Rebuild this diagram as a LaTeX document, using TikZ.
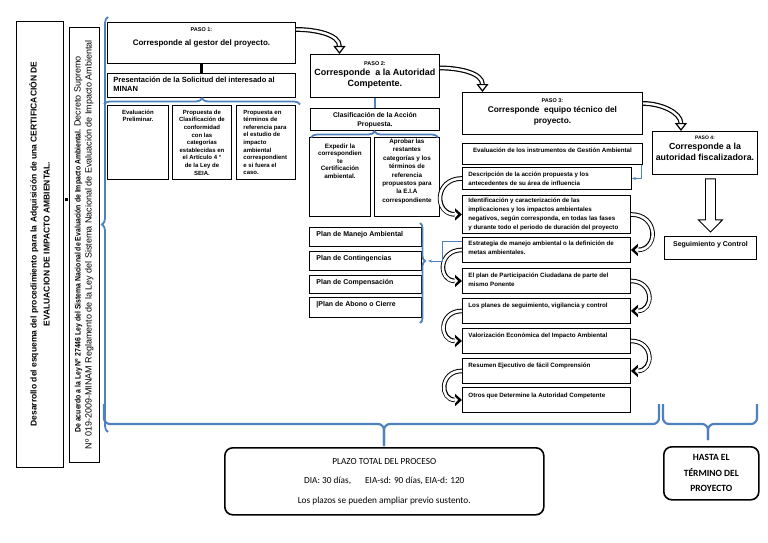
\documentclass[tikz,border=0pt]{standalone}
\usepackage{fontspec}
\setmainfont{Liberation Sans}
\newfontfamily\calibri{Carlito}
\usepackage{graphicx}
\usetikzlibrary{positioning,arrows.meta,decorations.pathreplacing,calc}
\definecolor{brblue}{RGB}{79,129,189}
\newcommand{\fsz}[2]{\fontsize{#1}{#2}\selectfont}
\newcommand{\boxtxt}[4]{\parbox[c][#2pt][t]{#1pt}{\vspace*{#3pt}#4}}
\begin{document}
\begin{tikzpicture}[x=1pt,y=-1pt,
  box/.style={draw, line width=0.9pt, inner sep=0pt, anchor=north west, font=\bfseries},
  brc/.style={brblue, line width=1.8pt, decorate},
  blu/.style={brblue, line width=1pt, -{Stealth[length=4pt]}},
  hollow/.style={line width=1.2pt, double=white, double distance=2.4pt, -{Triangle[open, length=8pt, width=12pt]}},
  bendout/.style={black, line width=4.6pt, -{Triangle[length=7pt, width=12pt]}},
  bendin/.style={white, line width=2.6pt, shorten >=4pt, -{Triangle[length=3.5pt, width=7pt]}},
  endbox/.style={draw, line width=1.6pt, rounded corners=8pt, align=center, anchor=north west}]
\useasboundingbox (0,0) rectangle (768,543);

% titulos laterales
\node[draw, line width=0.8pt, rotate=90, minimum width=446, minimum height=47, inner sep=0pt, align=center, font=\bfseries\fsz{8.5}{13}] (titulo) at (39.5,244)
  {Desarrollo del esquema del procedimiento para la Adquisición de una CERTIFICACIÓN DE\\EVALUACION DE IMPACTO AMBIENTAL.};
\node[draw, line width=0.8pt, rotate=90, minimum width=435, minimum height=30, inner sep=0pt, align=center, font=\fsz{9}{11}] (norma) at (84,244.5)
  {{\bfseries\scalebox{0.86}[1]{\fsz{8}{11}De acuerdo a la Ley Nº 27446 Ley del Sistema Nacional de Evaluación de Impacto Ambiental.}} Decreto Supremo\\Nº 019-2009-MINAM Reglamento de la Ley del Sistema Nacional de Evaluación de Impacto Ambiental};
\fill (65,198) rectangle ++(3,3);

% paso 1
\node[box] (paso1) at (107,22) {\boxtxt{188}{41}{5}{\centering{\fsz{5.5}{7}PASO 1:\par}{\fsz{8}{14}Corresponde al gestor del proyecto.\par}}};
\node[box] (pres) at (107,73) {\boxtxt{188}{24}{4}{\raggedright\leftskip=6pt\fsz{7.5}{9}Presentación de la Solicitud del interesado al\\MINAN\par}};
\node[box] (prelim) at (107,105) {\boxtxt{61}{74}{4.5}{\centering\fsz{6}{7.6}Evaluación\\Preliminar.\par}};
\node[box] (clasif) at (172,105) {\boxtxt{59}{74}{4.5}{\centering\fsz{6}{7.6}Propuesta de\\Clasificación de\\conformidad\\con las\\categorías\\establecidas en\\el Artículo 4 °\\de la Ley de\\SEIA.\par}};
\node[box] (terminos) at (236,105) {\boxtxt{59}{74}{4.5}{\raggedright\leftskip=7pt\fsz{6}{7.6}Propuesta en\\términos de\\referencia para\\el estudio de\\impacto\\ambiental\\correspondient\\e si fuera el\\caso.\par}};

% paso 2
\node[box] (paso2) at (310,54) {\boxtxt{129}{43}{7}{\centering{\fsz{5.5}{7}PASO 2:\par}{\fsz{9}{10.5}Corresponde\ \ a la Autoridad\\Competente.\par}}};
\node[box] (accion) at (310,108) {\boxtxt{129}{22}{4.5}{\centering\fsz{6.8}{9}Clasificación de la Acción\\Propuesta.\par}};
\node[box] (expedir) at (309,137) {\boxtxt{61}{79}{6}{\centering\fsz{6.3}{7.5}Expedir la\\correspondien\\te\\Certificación\\ambiental.\par}};
\node[box] (aprobar) at (374,137) {\boxtxt{65}{79}{1.5}{\centering\fsz{6.3}{8.4}Aprobar las\\restantes\\categorías y los\\términos de\\referencia\\propuestos para\\la E.I.A\\correspondiente\par}};
\node[box] (manejo) at (309,227) {\boxtxt{112}{19}{3.5}{\raggedright\leftskip=7pt\fsz{7}{8}Plan de Manejo Ambiental\par}};
\node[box] (conting) at (309,251) {\boxtxt{112}{19}{3.5}{\raggedright\leftskip=7pt\fsz{7}{8}Plan de Contingencias\par}};
\node[box] (compens) at (309,275) {\boxtxt{112}{18}{3.5}{\raggedright\leftskip=7pt\fsz{7}{8}Plan de Compensación\par}};
\node[box] (abono) at (309,297) {\boxtxt{112}{20}{3.5}{\raggedright\leftskip=7pt\fsz{7}{8}|Plan de Abono o Cierre\par}};
\coordinate (planbr) at (428,261);

% paso 3
\node[box] (paso3) at (462,92) {\boxtxt{180}{42}{6}{\centering{\fsz{5.5}{7}PASO 3:\par}{\fsz{8.3}{10.5}Corresponde\ \ equipo técnico del\\proyecto.\par}}};
\node[box] (instr) at (462,143) {\boxtxt{180}{21}{4.5}{\centering\fsz{6.2}{9}Evaluación de los instrumentos de Gestión Ambiental\par}};
\node[box] (descr) at (462,167) {\boxtxt{169}{22}{4.5}{\raggedright\leftskip=6pt\fsz{6.2}{9}Descripción de la acción propuesta y los\\antecedentes de su área de influencia\par}};
\node[box] (ident) at (462,195) {\boxtxt{168}{38}{2.5}{\raggedright\leftskip=6pt\fsz{6.2}{9}Identificación y caracterización de las\\implicaciones y los impactos ambientales\\negativos, según corresponda, en todas las fases\\y durante todo el periodo de duración del proyecto\par}};
\node[box] (estrat) at (462,237) {\boxtxt{168}{25}{3.5}{\raggedright\leftskip=6pt\fsz{6.2}{9}Estrategia de manejo ambiental o la definición de\\metas ambientales.\par}};
\node[box] (partic) at (462,268) {\boxtxt{168}{25}{4.5}{\raggedright\leftskip=6pt\fsz{6.2}{9}El plan de Participación Ciudadana de parte del\\mismo Ponente\par}};
\node[box] (planes) at (462,298) {\boxtxt{168}{25}{4.5}{\raggedright\leftskip=6pt\fsz{6.2}{9}Los planes de seguimiento, vigilancia y control\par}};
\node[box] (valor) at (462,328) {\boxtxt{168}{25}{4.5}{\raggedright\leftskip=6pt\fsz{6.2}{9}Valorización Económica del Impacto Ambiental\par}};
\node[box] (resumen) at (462,358) {\boxtxt{168}{25}{4.5}{\raggedright\leftskip=6pt\fsz{6.2}{9}Resumen Ejecutivo de fácil Comprensión\par}};
\node[box] (otros) at (462,387) {\boxtxt{168}{25}{5.5}{\raggedright\leftskip=6pt\fsz{6.2}{9}Otros que Determine la Autoridad Competente\par}};

% paso 4
\node[box] (paso4) at (652,131) {\boxtxt{105}{43}{4.5}{\centering{\fsz{5}{7}PASO 4:\par}{\fsz{8.8}{10.5}Corresponde a la\\autoridad fiscalizadora.\par}}};
\node[box] (seguim) at (664,236) {\boxtxt{92}{23}{5}{\centering\fsz{7}{8}Seguimiento y Control\par}};

% plazos
\node[endbox, minimum width=319, minimum height=67, font=\calibri\fsz{9.3}{19.5}] (plazo) at (224,447)
  {PLAZO TOTAL DEL PROCESO\\DIA: 30 días,\hspace{14pt}EIA-sd: 90 días, EIA-d: 120\\Los plazos se pueden ampliar previo sustento.};
\node[endbox, minimum width=95, minimum height=53, font=\calibri\bfseries\fsz{9.5}{15.5}] (hasta) at (663,446)
  {HASTA EL\\TÉRMINO DEL\\PROYECTO};

% conectores
\draw[line width=2.4pt] (paso1.south) -- (pres.north);
\draw[brblue, line width=1.6pt] (paso2.south) -- (accion.north);
\draw[hollow] ([yshift=13.5pt]paso1.east) to[out=0,in=90] ([xshift=-35.5pt]paso2.north);
\draw[hollow] ([yshift=8pt]paso2.east) to[out=0,in=90] ([xshift=-70pt]paso3.north);
\draw[hollow] ([yshift=10pt]paso3.east) to[out=0,in=90] ([xshift=-24pt]paso4.north);
\coordinate (atop) at (paso4.south -| seguim.north);
\draw[line width=0.9pt, fill=white] ($(atop)+(-5,4)$) -- ++(0,41) -- ++(-7,0) -- ($(seguim.north)+(0,-4)$)
  -- ($(atop)+(12,45)$) -- ++(-7,0) -- ++(0,-41) -- cycle;

% flechas curvas entre pasos del equipo tecnico
\foreach \a/\b/\s/\o in {descr/ident/west/180, ident/estrat/east/0, estrat/partic/west/180,
    partic/planes/east/0, planes/valor/west/180, valor/resumen/east/0, resumen/otros/west/180}{
  \draw[bendout] (\a.\s) to[out=\o,in=\o,looseness=2] (\b.\s);
  \draw[bendin] (\a.\s) to[out=\o,in=\o,looseness=2] (\b.\s);
}

\draw[blu] ([xshift=-1pt]instr.south east) |- (descr.east);
\draw[blu] ([yshift=8.5pt]estrat.west) -- ++(-20,0) |- (planbr);

% llaves
\draw[brc, decoration={brace, amplitude=6pt, mirror}] (108,17) -- (108,432);
\draw[brc, decoration={brace, amplitude=6pt}] (104,104.5) -- (300,104.5);
\draw[brc, decoration={brace, amplitude=6pt}] (311,137.5) -- (438,137.5);
\draw[brc, decoration={brace, amplitude=5pt, aspect=0.38}] (420,223) -- (420,323);
\draw[brblue, line width=2.2pt, rounded corners=6pt] (104,404) |- (384,424) -- (384,446);
\draw[brblue, line width=2.2pt, rounded corners=6pt] (384,446) -- (384,424) -| (659,404);
\draw[brblue, line width=2.2pt, rounded corners=6pt] (663,404) |- (708,424) -- (708,440);
\draw[brblue, line width=2.2pt, rounded corners=6pt] (708,440) -- (708,424) -| (757,404);
\end{tikzpicture}
\end{document}
